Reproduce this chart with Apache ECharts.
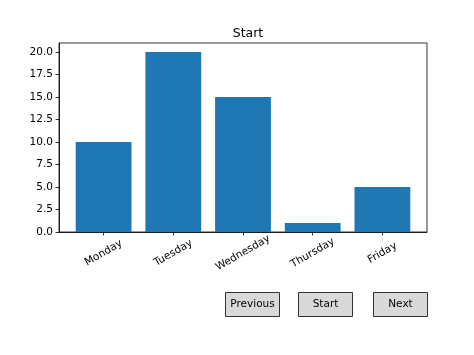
<!DOCTYPE html>
<html>
<head>
<meta charset="utf-8">
<script src="https://cdn.jsdelivr.net/npm/echarts@6/dist/echarts.min.js"></script>
<style>
  html, body { margin: 0; padding: 0; background: #fff; }
  #chart { width: 474px; height: 355px; }
</style>
</head>
<body>
<div id="chart"></div>
<script>
// data
const days = ['Monday', 'Tuesday', 'Wednesday', 'Thursday', 'Friday'];
const values = [10, 20, 15, 1, 5];
const yTicks = [0, 2.5, 5, 7.5, 10, 12.5, 15, 17.5, 20];
const buttonLabels = ['Previous', 'Start', 'Next'];
const titleText = 'Start';

const chart = echarts.init(document.getElementById('chart'));
const font = 'DejaVu Sans';

// bottom buttons (matplotlib widget look)
const btnX = [225, 298, 373];
const buttons = buttonLabels.map(function (label, i) {
  return {
    type: 'group',
    left: btnX[i],
    top: 292,
    children: [
      { type: 'rect', shape: { x: 0, y: 0, width: 54, height: 24 },
        style: { fill: '#d9d9d9', stroke: '#333', lineWidth: 1 } },
      { type: 'text', x: 27, y: 12,
        style: { text: label, fontFamily: font, fontSize: 10.5, fill: '#000',
                 align: 'center', verticalAlign: 'middle' } }
    ]
  };
});

const optionData = {
  animation: false,
  backgroundColor: '#fff',
  title: {
    text: titleText,
    left: 243,
    top: 22,
    textAlign: 'center',
    textStyle: { fontFamily: font, fontSize: 12.5, fontWeight: 'normal', color: '#000' }
  },
  grid: {
    left: 59, right: 47, top: 43, bottom: 123,
    show: true, borderColor: '#000', borderWidth: 0.8, backgroundColor: 'transparent'
  },
  xAxis: {
    type: 'value',
    min: -0.64,
    max: 4.64,
    splitLine: { show: false },
    axisLine: { show: true, onZero: false, lineStyle: { color: '#000', width: 0.8 } },
    axisTick: { show: true, length: 3.5, lineStyle: { color: '#000', width: 0.8 },
                customValues: [0, 1, 2, 3, 4] },
    axisLabel: {
      customValues: [0, 1, 2, 3, 4],
      formatter: function (v) { return days[Math.round(v)]; },
      rotate: 30,
      align: 'center',
      verticalAlign: 'middle',
      margin: 21,
      fontFamily: font, fontSize: 10.5, color: '#000'
    }
  },
  yAxis: {
    type: 'value',
    min: 0,
    max: 21,
    splitLine: { show: false },
    axisLine: { show: true, onZero: false, lineStyle: { color: '#000', width: 0.8 } },
    axisTick: { show: true, length: 3.5, lineStyle: { color: '#000', width: 0.8 },
                customValues: yTicks },
    axisLabel: {
      customValues: yTicks,
      formatter: function (v) { return v.toFixed(1); },
      margin: 6,
      fontFamily: font, fontSize: 10.5, color: '#000'
    }
  },
  series: [{
    type: 'bar',
    barWidth: 55.8,
    itemStyle: { color: '#1f77b4' },
    data: values.map(function (v, i) { return [i, v]; })
  }],
  graphic: buttons
};

chart.setOption(optionData);
</script>
</body>
</html>
